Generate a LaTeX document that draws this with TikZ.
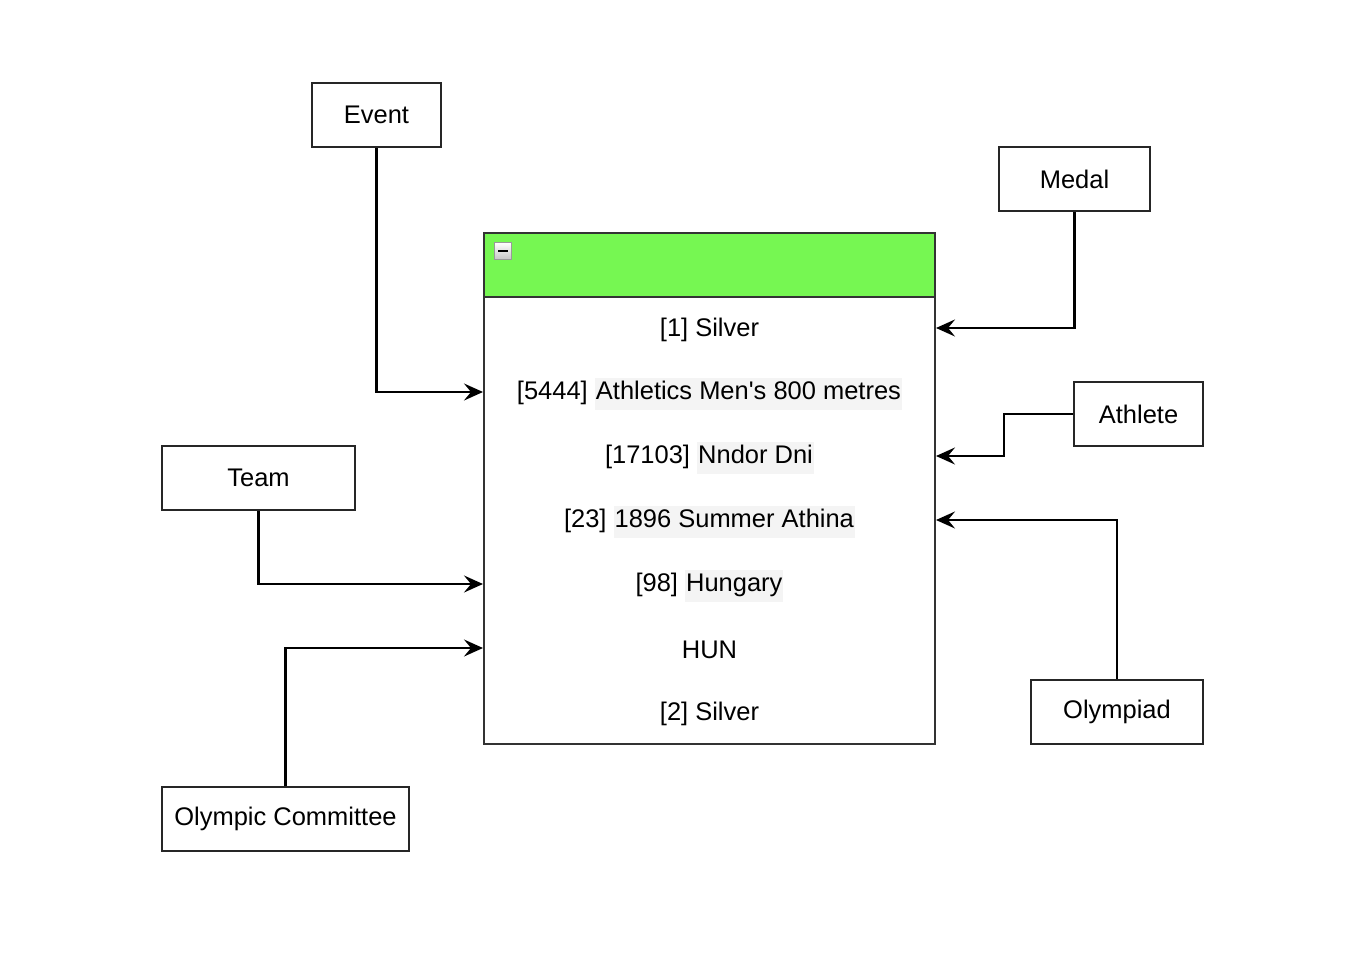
\documentclass[tikz,border=0pt]{standalone}
\usepackage{fontspec}
\setmainfont{Liberation Sans}
\usepackage{xcolor}
\usetikzlibrary{calc,positioning,arrows.meta}

\definecolor{headgreen}{RGB}{118,247,82}
\definecolor{hlgray}{RGB}{244,244,244}
\newcommand{\hlval}[1]{{\setlength{\fboxsep}{0.6pt}\colorbox{hlgray}{\strut #1}}}

\begin{document}
\begin{tikzpicture}[
        x=0.02cm, y=-0.02cm,
        font=\fontsize{14.5}{17}\selectfont,
        entity/.style={rectangle, draw=black!85, line width=1.2pt, inner sep=0pt, minimum height=1.28cm},
        table/.style={rectangle, draw=black!80, line width=1.2pt, inner sep=0pt, minimum width=9.02cm},
        field/.style={inner sep=0pt, anchor=center},
        arrow/.style={line width=1.2pt, -{Stealth[length=0.38cm, width=0.34cm, inset=0.14cm]}}
    ]
        \useasboundingbox (0,0) rectangle (1358,966);

        % record
        \node[table, minimum height=10.22cm] (record) at (709.5,488.5) {};
        \node[table, fill=headgreen, minimum height=1.28cm] (head) at (709.5,265) {};
        \node[rectangle, draw=gray!80, line width=0.8pt, top color=white, bottom color=gray!45,
              minimum size=0.34cm, inner sep=0pt] (toggle) at (503,251) {};
        \draw[line width=1.2pt] ([xshift=-0.1cm]toggle.center) -- ([xshift=0.1cm]toggle.center);

        \node[field] (row1) at (709.5,330) {[1] Silver};
        \node[field] (row2) at (709.5,394) {[5444] \hlval{Athletics Men\textquotesingle s 800 metres}};
        \node[field] (row3) at (709.5,458) {[17103] \hlval{Nndor Dni}};
        \node[field] (row4) at (709.5,522) {[23] \hlval{1896 Summer Athina}};
        \node[field] (row5) at (709.5,586) {[98] \hlval{Hungary}};
        \node[field] (row6) at (709.5,650) {HUN};
        \node[field] (row7) at (709.5,714) {[2] Silver};

        % related entities
        \node[entity, minimum width=2.58cm] (event) at (376.5,115) {Event};
        \node[entity, minimum width=3.02cm] (medal) at (1074.5,179) {Medal};
        \node[entity, minimum width=2.58cm] (athlete) at (1138.5,414) {Athlete};
        \node[entity, minimum width=3.86cm] (team) at (258.5,478) {Team};
        \node[entity, minimum width=3.44cm] (olympiad) at (1117,712) {Olympiad};
        \node[entity, minimum width=4.94cm] (committee) at (285.5,819) {Olympic Committee};

        \draw[arrow] (event.south) |- ([yshift=0.04cm]row2 -| record.west);
        \draw[arrow] (medal.south) |- ([yshift=0.04cm]row1 -| record.east);
        \draw[arrow] (athlete.west) -- ++(-69,0) |- ([yshift=0.04cm]row3 -| record.east);
        \draw[arrow] (olympiad.north) |- ([yshift=0.04cm]row4 -| record.east);
        \draw[arrow] (team.south) |- ([yshift=0.04cm]row5 -| record.west);
        \draw[arrow] (committee.north) |- ([yshift=0.04cm]row6 -| record.west);
    \end{tikzpicture}
\end{document}
